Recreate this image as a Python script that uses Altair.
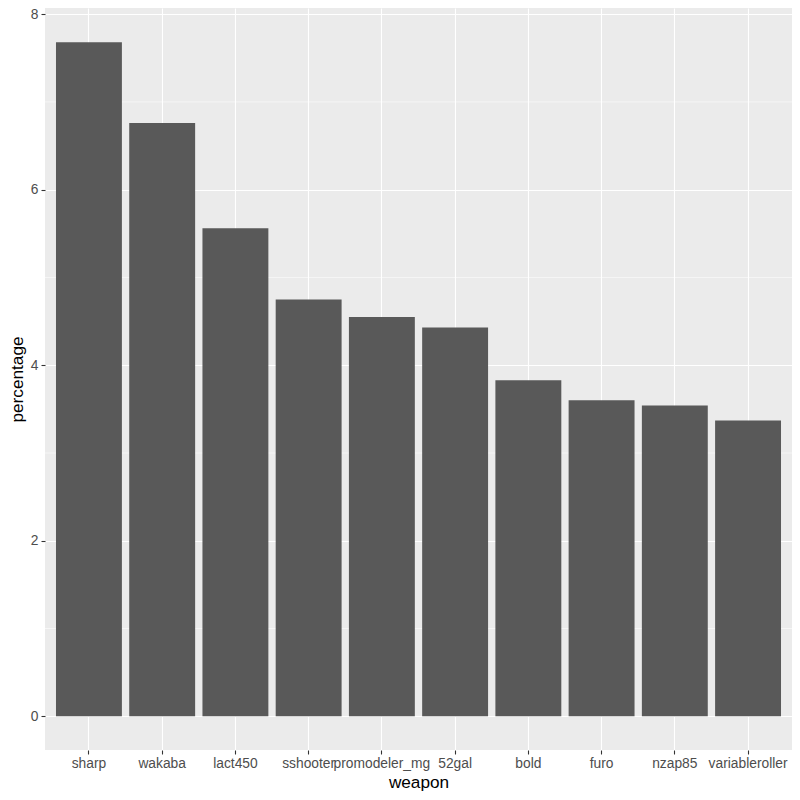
import altair as alt
import pandas as pd

weapons = ["sharp", "wakaba", "lact450", "sshooter", "promodeler_mg", "52gal",
           "bold", "furo", "nzap85", "variableroller"]
percentages = [7.68, 6.76, 5.56, 4.75, 4.55, 4.43, 3.83, 3.60, 3.54, 3.37]
major_ticks = [0, 2, 4, 6, 8]
minor_ticks = [1, 3, 5, 7]

df = pd.DataFrame({"weapon": weapons, "percentage": percentages})
minor_df = pd.DataFrame({"percentage": minor_ticks})

yscale = alt.Scale(domain=[-0.384, 8.07], nice=False, zero=False)

minor = alt.Chart(minor_df).mark_rule(color="white", strokeWidth=0.55).encode(
    y=alt.Y("percentage:Q", scale=yscale)
)

bars = alt.Chart(df).mark_bar(color="#595959").encode(
    x=alt.X("weapon:N", sort=weapons,
            scale=alt.Scale(paddingInner=0.1, paddingOuter=0.15),
            axis=alt.Axis(title="weapon", labelAngle=0, bandPosition=0.5,
                          grid=True, labelPadding=2, titlePadding=4,
                          labelOverlap=False)),
    y=alt.Y("percentage:Q", scale=yscale,
            axis=alt.Axis(title="percentage", values=major_ticks, grid=True,
                          labelPadding=3, titlePadding=4, format="d")),
)

chart = alt.layer(minor, bars).properties(
    width=747, height=742,
    autosize=alt.AutoSizeParams(type="none"),
    padding={"left": 37, "top": 0, "right": 0, "bottom": 50},
).configure_view(
    fill="#ebebeb", strokeWidth=0
).configure_axis(
    domain=False,
    tickColor="#333333", tickSize=4, tickWidth=1.1,
    labelColor="#4d4d4d", labelFontSize=13.8, labelFont="Liberation Sans",
    titleColor="black", titleFontSize=17.2, titleFont="Liberation Sans",
    titleFontWeight="normal",
    gridColor="white", gridWidth=1.1,
)

chart.save("out.html", embed_options={"renderer": "svg", "actions": False})
